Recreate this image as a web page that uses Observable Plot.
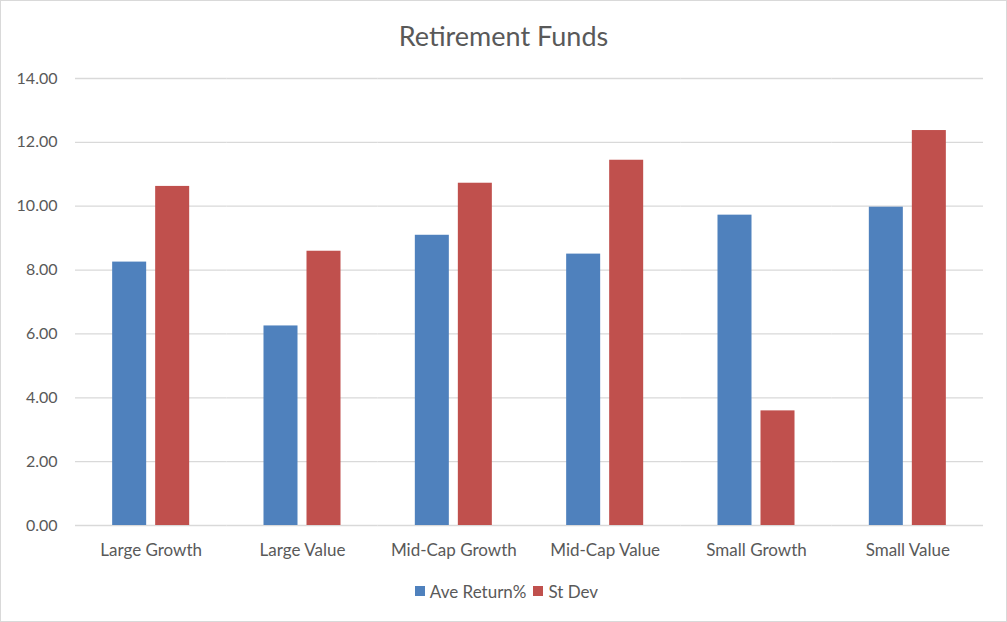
<!DOCTYPE html>
<html>
<head>
<meta charset="utf-8">
<script src="https://cdn.jsdelivr.net/npm/d3@7"></script>
<script src="https://cdn.jsdelivr.net/npm/@observablehq/plot@0.6"></script>
<style>
  html, body { margin: 0; padding: 0; background: #fff; }
  #chart { box-sizing: border-box; width: 1007px; height: 622px; border: 1px solid #d9d9d9; background: #fff; font-family: Lato, "Open Sans", sans-serif; color: #595959; }
  #title { height: 60px; line-height: 70px; text-align: center; font-size: 27px; color: #595959; }
  #plot svg { display: block; }
  #legend { box-sizing: border-box; height: 50px; padding-bottom: 10px; display: flex; justify-content: center; align-items: center; font-size: 17px; color: #595959; gap: 7px; padding-left: 6px; }
  .key { display: flex; align-items: center; }
  .sw { width: 10px; height: 10px; margin-right: 5px; display: inline-block; }
</style>
</head>
<body>
<div id="chart">
  <div id="title">Retirement Funds</div>
  <div id="plot"></div>
  <div id="legend"></div>
</div>
<script>
const categories = ["Large Growth", "Large Value", "Mid-Cap Growth", "Mid-Cap Value", "Small Growth", "Small Value"];
const aveReturn = [8.25, 6.25, 9.09, 8.50, 9.72, 9.97];
const stDev = [10.62, 8.59, 10.72, 11.44, 3.59, 12.37];
const seriesNames = ["Ave Return%", "St Dev"];
const seriesColors = ["#4F81BD", "#C0504D"];
const yTicks = [0, 2, 4, 6, 8, 10, 12, 14];

const data = categories.flatMap((c, i) => [
  {category: c, series: seriesNames[0], value: aveReturn[i]},
  {category: c, series: seriesNames[1], value: stDev[i]}
]);

const chart = Plot.plot({
  width: 1005,
  height: 510,
  marginTop: 17,
  marginBottom: 46,
  marginLeft: 74,
  marginRight: 23,
  style: {fontFamily: "Lato, 'Open Sans', sans-serif", fontSize: "16px", color: "#595959", background: "#fff"},
  fx: {domain: categories, padding: 0, round: false, label: null},
  x: {domain: seriesNames, paddingInner: 0.2093, paddingOuter: 0.864, round: false, axis: null},
  y: {domain: [0, 14], label: null},
  color: {domain: seriesNames, range: seriesColors},
  marks: [
    Plot.gridY(yTicks, {stroke: "#d9d9d9", strokeOpacity: 1, strokeWidth: 1.3}),
    Plot.axisY(yTicks, {anchor: "left", tickFormat: d => d.toFixed(2), tickSize: 0, tickPadding: 18, label: null, fontSize: 16}),
    Plot.axisFx({anchor: "bottom", tickSize: 0, tickPadding: 18, label: null, fontSize: 17}),
    Plot.barY(data, {fx: "category", x: "series", y: "value", fill: "series"})
  ]
});
document.getElementById("plot").appendChild(chart);

const legend = document.getElementById("legend");
seriesNames.forEach((name, i) => {
  const k = document.createElement("span");
  k.className = "key";
  const sw = document.createElement("span");
  sw.className = "sw";
  sw.style.background = seriesColors[i];
  k.appendChild(sw);
  k.appendChild(document.createTextNode(name));
  legend.appendChild(k);
});
</script>
</body>
</html>
